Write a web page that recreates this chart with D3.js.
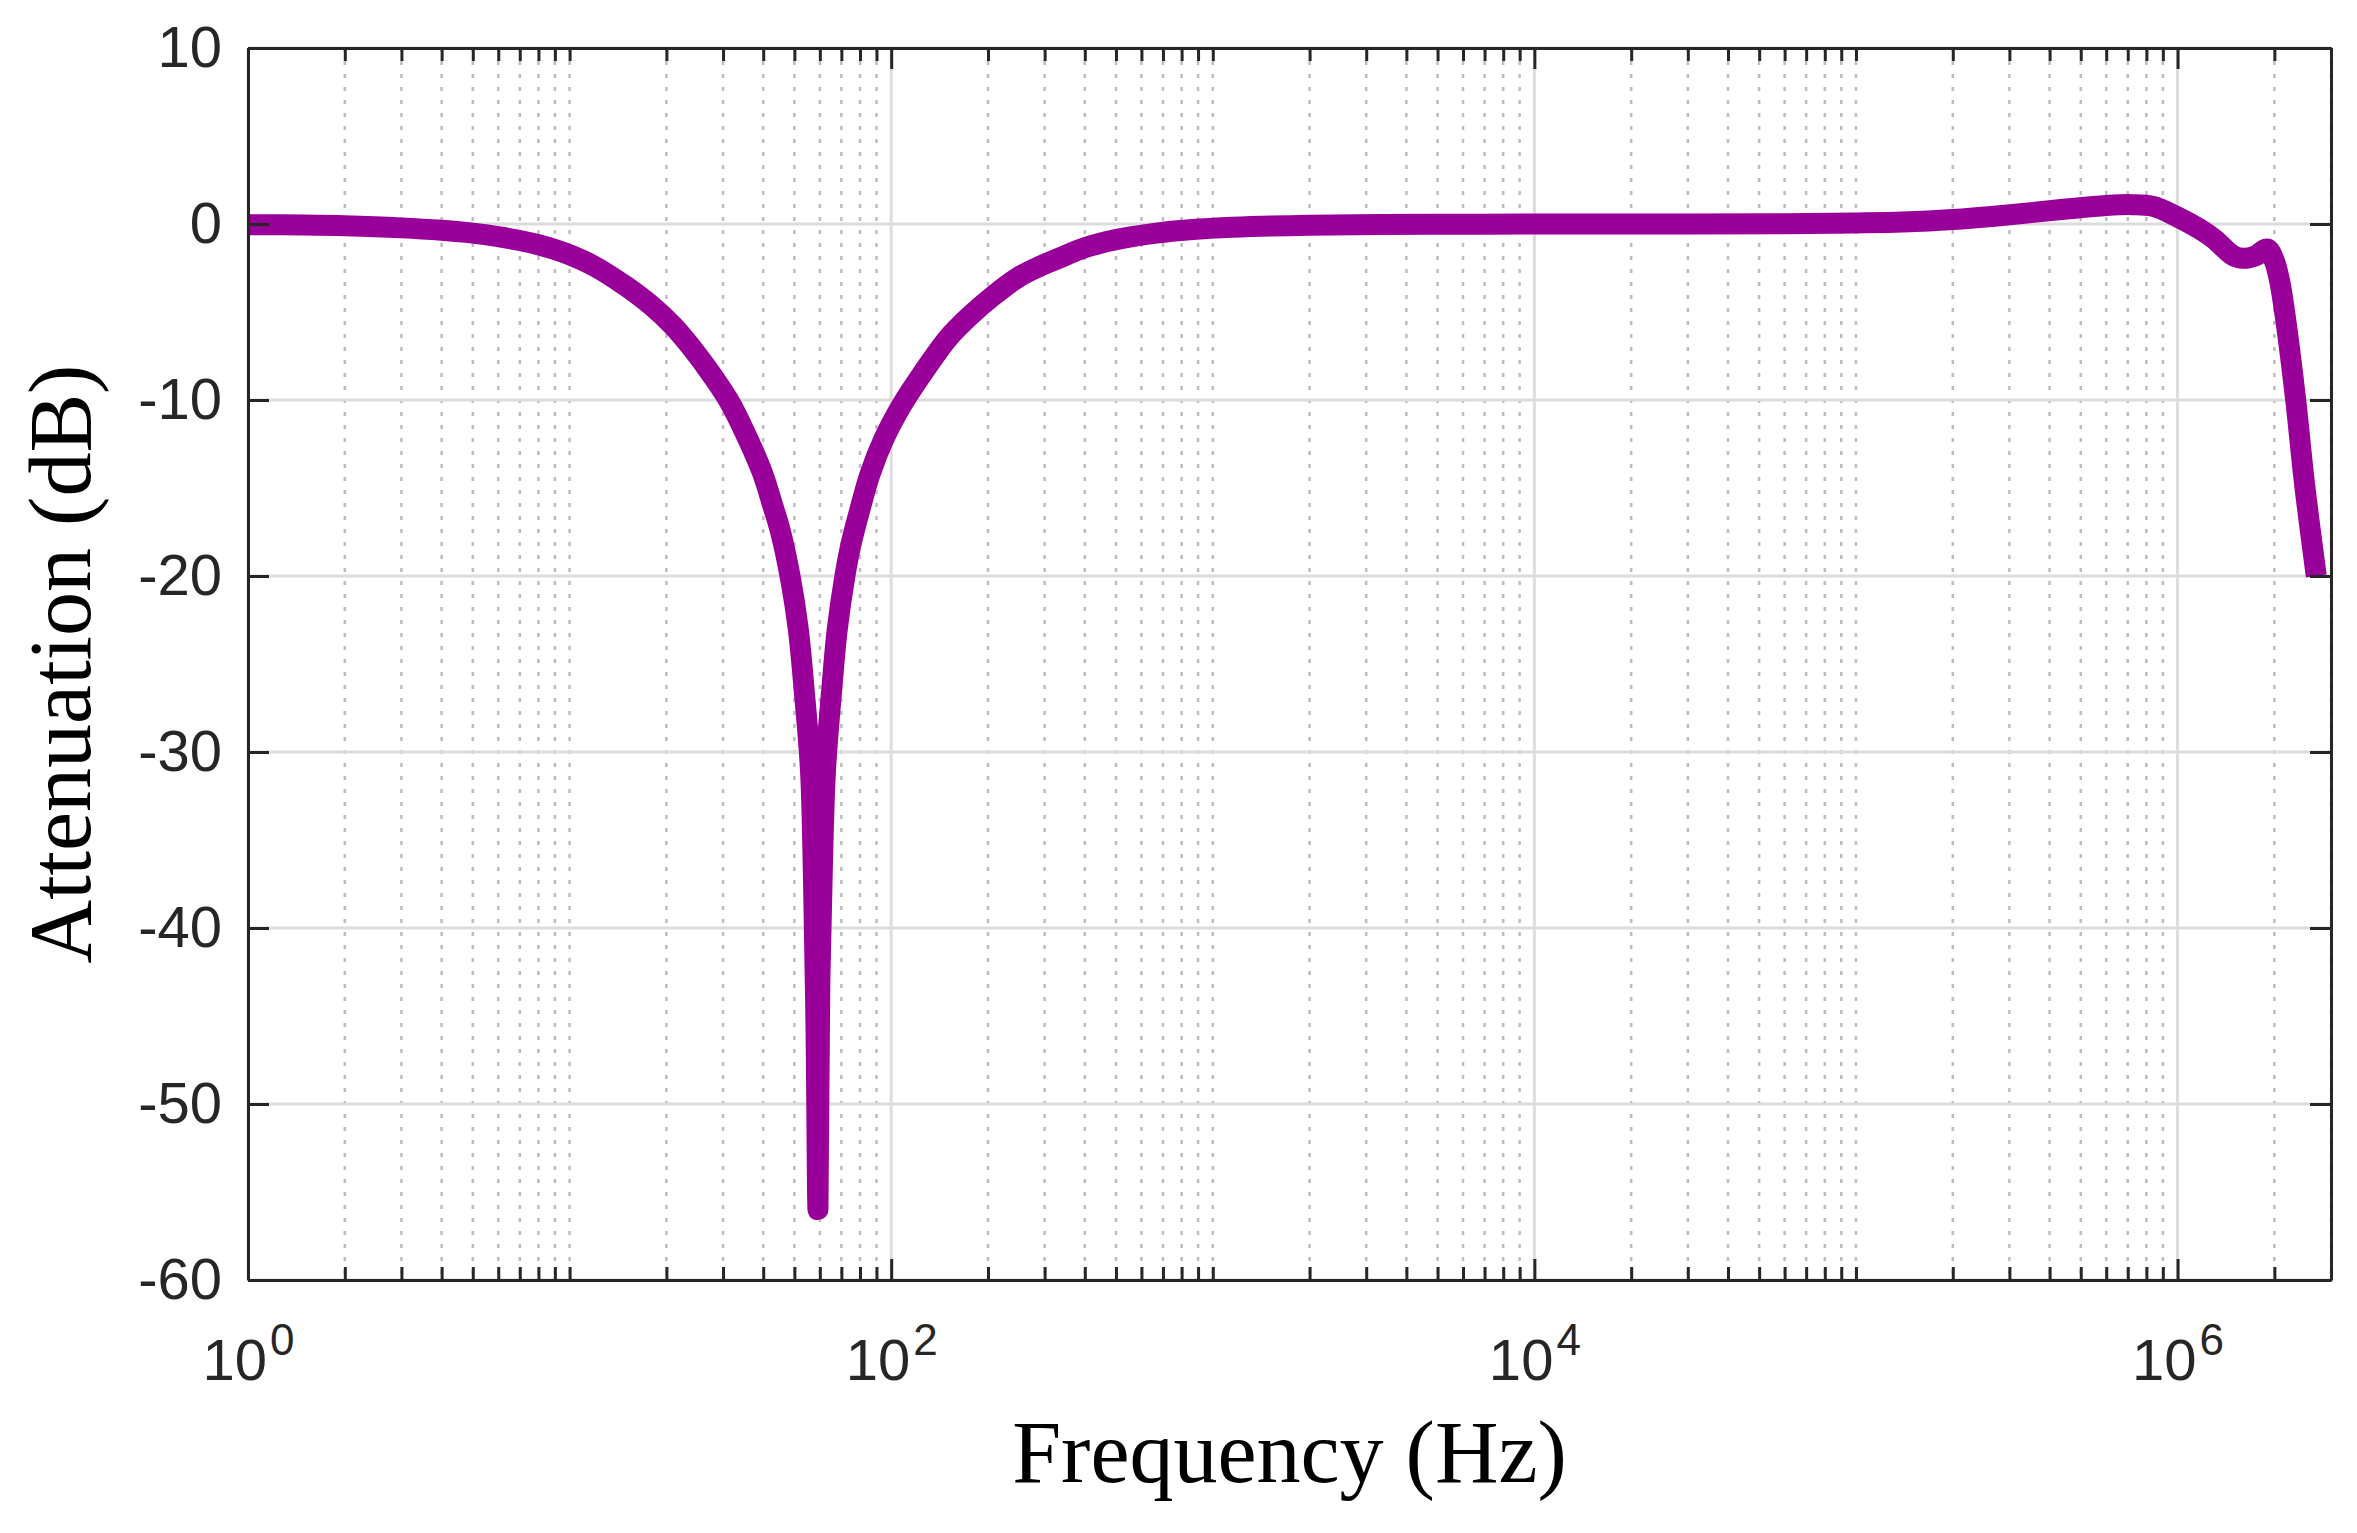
<!DOCTYPE html>
<html>
<head>
<meta charset="utf-8">
<script src="https://cdn.jsdelivr.net/npm/d3@7"></script>
<style>
  body { margin: 0; background: #fff; }
  svg { display: block; }
</style>
</head>
<body>
<svg id="chart" width="2357" height="1533"></svg>
<script>
// Attenuation curve, values
var freqHz = [1, 1.5, 2, 3, 4, 5, 6, 7, 8, 9, 10, 12, 15, 18, 21, 24, 28, 31.3, 35, 39.7,
  43, 45.3, 48.7, 51.4, 53.7, 56.1, 57.3, 58.4, 59.2, 60.0, 61.2, 62.5, 65.3, 68, 71.8,
  75, 80, 86, 95, 107.8, 125, 150, 175, 207, 250, 290, 335, 385, 450, 550, 666, 850,
  1150, 2000, 5000, 1e4, 3e4, 6e4, 1e5, 1.4e5, 2e5, 2.8e5, 4.5e5, 6e5, 7.2e5, 8.4e5,
  1e6, 1.175e6, 1.3e6, 1.49e6, 1.6e6, 1.75e6, 1.9e6, 2e6, 2.08e6, 2.16e6, 2.33e6, 2.48e6, 2.7e6];
var attenDb = [-0.04, -0.06, -0.1, -0.22, -0.36, -0.52, -0.72, -0.94, -1.18, -1.45, -1.75, -2.42,
  -3.55, -4.65, -5.8, -7.05, -8.7, -10.05, -11.8, -14.1, -16.1, -17.5, -20.2, -23, -26.6, -31, -37,
  -46, -56, -43, -36, -31, -26.5, -23, -20, -18.2, -16.2, -14.2, -12.2, -10.3, -8.5, -6.5,
  -5.25, -4.1, -3.0, -2.4, -1.92, -1.45, -1.08, -0.75, -0.52, -0.33, -0.19, -0.07, -0.02, 0,
  0, 0.02, 0.06, 0.11, 0.25, 0.47, 0.85, 1.05, 1.1, 1.0, 0.4, -0.3, -0.85, -1.8, -1.95,
  -1.8, -1.42, -2.1, -3.3, -5.2, -10, -14.7, -20];

var yTicks = [10, 0, -10, -20, -30, -40, -50, -60];
var xMajorExp = [0, 2, 4, 6];

// plot box (window.top is read-only, so no plain "top")
var pLeft = 248, pRight = 2331, pTop = 48, pBottom = 1280;

var svg = d3.select('#chart');

var x = d3.scaleLog().domain([1, 3e6]).range([pLeft, pRight]);
var y = d3.scaleLinear().domain([-60, 10]).range([pBottom, pTop]);

var xMajor = xMajorExp.map(e => Math.pow(10, e));
var xMinor = x.ticks().filter(v => xMajor.indexOf(v) < 0 && v <= 3e6);

// grid
var grid = svg.append('g');

grid.selectAll('.minor')
  .data(xMinor)
  .enter()
  .append('line')
  .attr('class', 'minor')
  .attr('x1', d => x(d))
  .attr('x2', d => x(d))
  .attr('y1', pTop)
  .attr('y2', pBottom)
  .style('stroke', '#bdbdbd')
  .style('stroke-width', 2.5)
  .style('stroke-dasharray', '4,9');

grid.selectAll('.hmajor')
  .data(yTicks)
  .enter()
  .append('line')
  .attr('x1', pLeft)
  .attr('x2', pRight)
  .attr('y1', d => y(d))
  .attr('y2', d => y(d))
  .style('stroke', '#dcdcdc')
  .style('stroke-width', 3);

grid.selectAll('.vmajor')
  .data(xMajor)
  .enter()
  .append('line')
  .attr('x1', d => x(d))
  .attr('x2', d => x(d))
  .attr('y1', pTop)
  .attr('y2', pBottom)
  .style('stroke', '#dcdcdc')
  .style('stroke-width', 3);

// curve
var points = freqHz.map((f, i) => ({f: f, db: attenDb[i]}));

var line = d3.line()
  .x(d => x(d.f))
  .y(d => y(d.db))
  .curve(d3.curveCatmullRom.alpha(0.5));

svg.append('path')
  .datum(points)
  .attr('d', line)
  .style('fill', 'none')
  .style('stroke', '#990099')
  .style('stroke-width', 21)
  .style('stroke-linejoin', 'round')
  .style('stroke-linecap', 'butt');

// axes
function styleAxis(g) {
  g.select('.domain').style('stroke', '#262626').style('stroke-width', 3);
  g.selectAll('.tick line').style('stroke', '#262626').style('stroke-width', 3);
}

svg.append('g')
  .attr('transform', 'translate(0,' + pBottom + ')')
  .call(d3.axisBottom(x).tickValues(xMinor).tickSize(-13).tickSizeOuter(0).tickFormat(''))
  .call(styleAxis);

svg.append('g')
  .attr('transform', 'translate(0,' + pTop + ')')
  .call(d3.axisTop(x).tickValues(xMinor).tickSize(-13).tickSizeOuter(0).tickFormat(''))
  .call(styleAxis);

svg.append('g')
  .attr('transform', 'translate(0,' + pTop + ')')
  .call(d3.axisTop(x).tickValues(xMajor).tickSize(-21).tickSizeOuter(0).tickFormat(''))
  .call(styleAxis);

var gx = svg.append('g')
  .attr('transform', 'translate(0,' + pBottom + ')')
  .call(d3.axisBottom(x).tickValues(xMajor).tickSize(-21).tickSizeOuter(0).tickPadding(59))
  .call(styleAxis);

gx.selectAll('.tick text')
  .style('font-family', '"Liberation Sans", Arial, sans-serif')
  .style('font-size', '58px')
  .style('fill', '#262626')
  .each(function (d) {
    var t = d3.select(this);
    t.text(null);
    t.append('tspan').text('10');
    t.append('tspan')
      .attr('dy', -25)
      .attr('dx', 3)
      .style('font-size', '44px')
      .text(Math.round(Math.log10(d)));
  });

var gy = svg.append('g')
  .attr('transform', 'translate(' + pLeft + ',0)')
  .call(d3.axisLeft(y).tickValues(yTicks).tickSize(-21).tickSizeOuter(0).tickPadding(26)
    .tickFormat(d => String(d)))
  .call(styleAxis);

gy.selectAll('.tick text')
  .style('font-family', '"Liberation Sans", Arial, sans-serif')
  .style('font-size', '58px')
  .style('fill', '#262626');

svg.append('g')
  .attr('transform', 'translate(' + pRight + ',0)')
  .call(d3.axisRight(y).tickValues(yTicks).tickSize(-21).tickSizeOuter(0).tickFormat(''))
  .call(styleAxis);

// axis titles
svg.append('text')
  .attr('x', (pLeft + pRight) / 2)
  .attr('y', 1482)
  .attr('text-anchor', 'middle')
  .style('font-family', '"Liberation Serif", "Times New Roman", serif')
  .style('font-size', '88px')
  .style('fill', '#000')
  .text('Frequency (Hz)');

svg.append('text')
  .attr('transform', 'translate(90,' + (pTop + pBottom) / 2 + ') rotate(-90)')
  .attr('text-anchor', 'middle')
  .style('font-family', '"Liberation Serif", "Times New Roman", serif')
  .style('font-size', '88px')
  .style('fill', '#000')
  .text('Attenuation (dB)');
</script>
</body>
</html>
